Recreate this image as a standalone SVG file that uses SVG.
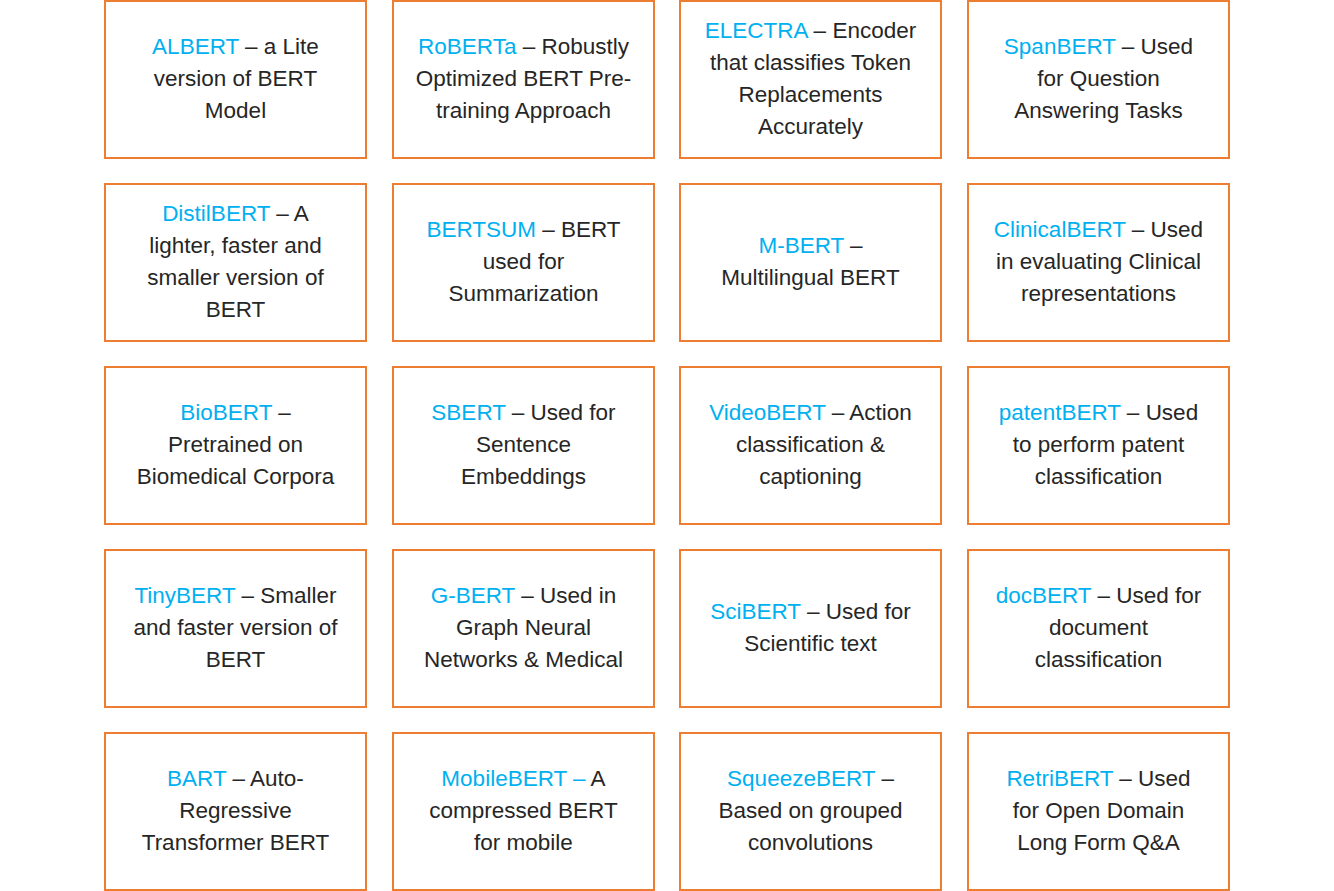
<svg xmlns="http://www.w3.org/2000/svg" width="1334" height="891" viewBox="0 0 1334 891">
<style>
rect{fill:#fff;stroke:#ED7D31;stroke-width:2}
text{font-family:"Liberation Sans",Arial,sans-serif;font-size:22.5px;fill:#262626;text-anchor:middle}
.b{fill:#00B0F0}
</style>
<rect x="0" y="0" width="1334" height="891" style="stroke:none"/>
<g id="n1"><rect x="105" y="1" width="261" height="157"/><text x="235.5"><tspan x="235.5" y="54"><tspan class="b">ALBERT</tspan> – a Lite</tspan><tspan x="235.5" y="86">version of BERT</tspan><tspan x="235.5" y="118">Model</tspan></text></g>
<g id="n2"><rect x="393" y="1" width="261" height="157"/><text><tspan x="523.5" y="54"><tspan class="b">RoBERTa</tspan> – Robustly</tspan><tspan x="523.5" y="86">Optimized BERT Pre-</tspan><tspan x="523.5" y="118">training Approach</tspan></text></g>
<g id="n3"><rect x="680" y="1" width="261" height="157"/><text><tspan x="810.5" y="38"><tspan class="b">ELECTRA</tspan> – Encoder</tspan><tspan x="810.5" y="70">that classifies Token</tspan><tspan x="810.5" y="102">Replacements</tspan><tspan x="810.5" y="134">Accurately</tspan></text></g>
<g id="n4"><rect x="968" y="1" width="261" height="157"/><text><tspan x="1098.5" y="54"><tspan class="b">SpanBERT</tspan> – Used</tspan><tspan x="1098.5" y="86">for Question</tspan><tspan x="1098.5" y="118">Answering Tasks</tspan></text></g>

<g id="n5"><rect x="105" y="184" width="261" height="157"/><text><tspan x="235.5" y="221"><tspan class="b">DistilBERT</tspan> – A</tspan><tspan x="235.5" y="253">lighter, faster and</tspan><tspan x="235.5" y="285">smaller version of</tspan><tspan x="235.5" y="317">BERT</tspan></text></g>
<g id="n6"><rect x="393" y="184" width="261" height="157"/><text><tspan x="523.5" y="237"><tspan class="b">BERTSUM</tspan> – BERT</tspan><tspan x="523.5" y="269">used for</tspan><tspan x="523.5" y="301">Summarization</tspan></text></g>
<g id="n7"><rect x="680" y="184" width="261" height="157"/><text><tspan x="810.5" y="253"><tspan class="b">M-BERT</tspan> –</tspan><tspan x="810.5" y="285">Multilingual BERT</tspan></text></g>
<g id="n8"><rect x="968" y="184" width="261" height="157"/><text><tspan x="1098.5" y="237"><tspan class="b">ClinicalBERT</tspan> – Used</tspan><tspan x="1098.5" y="269">in evaluating Clinical</tspan><tspan x="1098.5" y="301">representations</tspan></text></g>

<g id="n9"><rect x="105" y="367" width="261" height="157"/><text><tspan x="235.5" y="420"><tspan class="b">BioBERT</tspan> –</tspan><tspan x="235.5" y="452">Pretrained on</tspan><tspan x="235.5" y="484">Biomedical Corpora</tspan></text></g>
<g id="n10"><rect x="393" y="367" width="261" height="157"/><text><tspan x="523.5" y="420"><tspan class="b">SBERT</tspan> – Used for</tspan><tspan x="523.5" y="452">Sentence</tspan><tspan x="523.5" y="484">Embeddings</tspan></text></g>
<g id="n11"><rect x="680" y="367" width="261" height="157"/><text><tspan x="810.5" y="420"><tspan class="b">VideoBERT</tspan> – Action</tspan><tspan x="810.5" y="452">classification &amp;</tspan><tspan x="810.5" y="484">captioning</tspan></text></g>
<g id="n12"><rect x="968" y="367" width="261" height="157"/><text><tspan x="1098.5" y="420"><tspan class="b">patentBERT</tspan> – Used</tspan><tspan x="1098.5" y="452">to perform patent</tspan><tspan x="1098.5" y="484">classification</tspan></text></g>

<g id="n13"><rect x="105" y="550" width="261" height="157"/><text><tspan x="235.5" y="603"><tspan class="b">TinyBERT</tspan> – Smaller</tspan><tspan x="235.5" y="635">and faster version of</tspan><tspan x="235.5" y="667">BERT</tspan></text></g>
<g id="n14"><rect x="393" y="550" width="261" height="157"/><text><tspan x="523.5" y="603"><tspan class="b">G-BERT</tspan> – Used in</tspan><tspan x="523.5" y="635">Graph Neural</tspan><tspan x="523.5" y="667">Networks &amp; Medical</tspan></text></g>
<g id="n15"><rect x="680" y="550" width="261" height="157"/><text><tspan x="810.5" y="619"><tspan class="b">SciBERT</tspan> – Used for</tspan><tspan x="810.5" y="651">Scientific text</tspan></text></g>
<g id="n16"><rect x="968" y="550" width="261" height="157"/><text><tspan x="1098.5" y="603"><tspan class="b">docBERT</tspan> – Used for</tspan><tspan x="1098.5" y="635">document</tspan><tspan x="1098.5" y="667">classification</tspan></text></g>

<g id="n17"><rect x="105" y="733" width="261" height="157"/><text><tspan x="235.5" y="786"><tspan class="b">BART</tspan> – Auto-</tspan><tspan x="235.5" y="818">Regressive</tspan><tspan x="235.5" y="850">Transformer BERT</tspan></text></g>
<g id="n18"><rect x="393" y="733" width="261" height="157"/><text><tspan x="523.5" y="786"><tspan class="b">MobileBERT –</tspan> A</tspan><tspan x="523.5" y="818">compressed BERT</tspan><tspan x="523.5" y="850">for mobile</tspan></text></g>
<g id="n19"><rect x="680" y="733" width="261" height="157"/><text><tspan x="810.5" y="786"><tspan class="b">SqueezeBERT</tspan> –</tspan><tspan x="810.5" y="818">Based on grouped</tspan><tspan x="810.5" y="850">convolutions</tspan></text></g>
<g id="n20"><rect x="968" y="733" width="261" height="157"/><text><tspan x="1098.5" y="786"><tspan class="b">RetriBERT</tspan> – Used</tspan><tspan x="1098.5" y="818">for Open Domain</tspan><tspan x="1098.5" y="850">Long Form Q&amp;A</tspan></text></g>
<g id="connectors"/>
</svg>
